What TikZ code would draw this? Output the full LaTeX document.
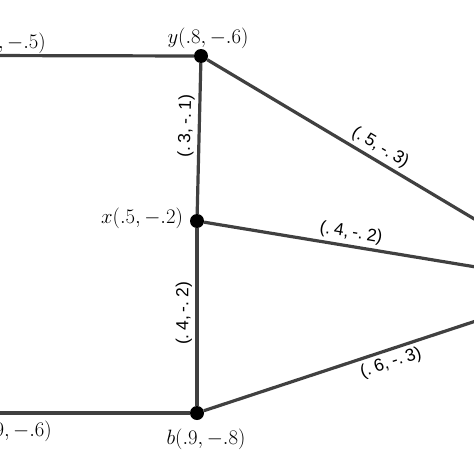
\documentclass[tikz,border=0pt]{standalone}
\usepackage{fontspec}
\newfontfamily\edgefont{Liberation Sans}
\newcommand\gapx{\kern0.22em}
\begin{document}
\begin{tikzpicture}[x=1pt,y=-1pt,
  edge/.style={draw=black!75, line width=3.2pt},
  dot/.style={circle, fill=black, inner sep=0pt, minimum size=14pt},
  vlabel/.style={font=\fontsize{20.5}{24}\selectfont, inner sep=2pt},
  elabel/.style={font=\edgefont\fontsize{17.5}{20}\selectfont, sloped, inner sep=3.5pt}]
\useasboundingbox (0,0) rectangle (474,474);
\clip (0,0) rectangle (474,474);
\coordinate (a) at (-250,55);
\coordinate (c) at (-250,413);
\coordinate (r) at (585,285);
\node[dot] (y) at (201,56) {};
\node[dot] (x) at (197,221) {};
\node[dot] (b) at (197,413) {};
\draw[edge] (a) -- (y);
\draw[edge] (c) -- (b);
\draw[edge] (x) -- node[elabel, above, pos=.58] {(.\gapx3,\gapx-.\gapx1)} (y);
\draw[edge] (b) -- node[elabel, above, pos=.52] {(.\gapx4,\gapx-.\gapx2)} (x);
\draw[edge] (y) -- node[elabel, above, pos=.44] {(.\gapx5,\gapx-.\gapx3)} (r);
\draw[edge] (x) -- node[elabel, above, pos=.38] {(.\gapx4,\gapx-.\gapx2)} (r);
\draw[edge] (b) -- node[elabel, below, pos=.48] {(.\gapx6,\gapx-.\gapx3)} (r);
\node[vlabel] (ylab) at (208,38) {$y(.8,-.6)$};
\node[vlabel] (xlab) at (142,218) {$x(.5,-.2)$};
\node[vlabel] (blab) at (206,439) {$b(.9,-.8)$};
\node[vlabel, anchor=east] (alab) at (48,43) {$a(.6,-.5)$};
\node[vlabel, anchor=east] (clab) at (54,431) {$c(.9,-.6)$};
\end{tikzpicture}
\end{document}
